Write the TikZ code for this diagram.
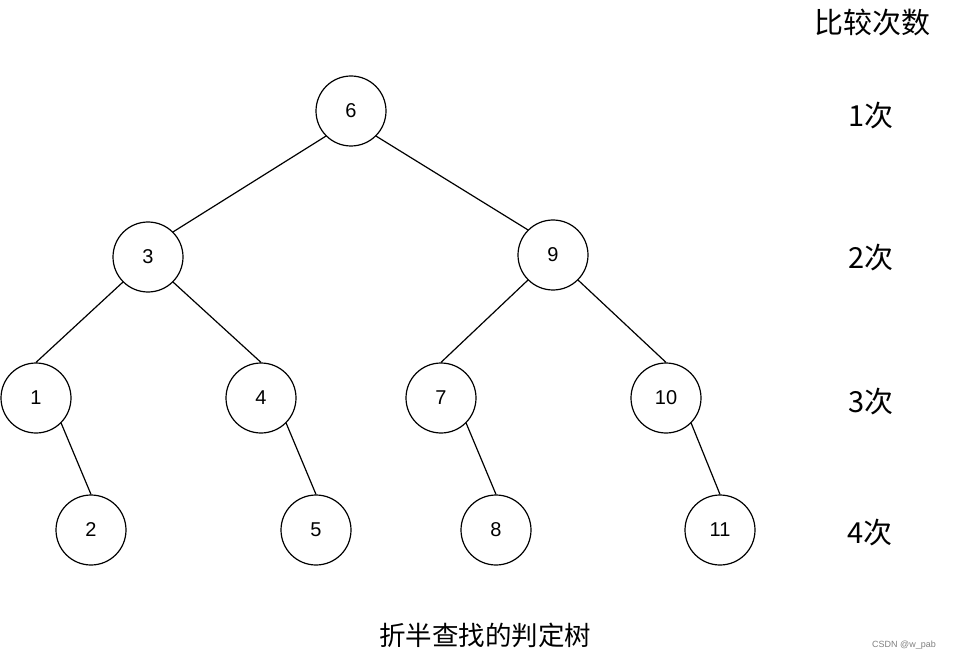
\documentclass[tikz,border=0pt]{standalone}
\usepackage{fontspec}
\setmainfont{Liberation Sans}
\newfontfamily\cjk{Noto Sans CJK SC}
\usetikzlibrary{positioning}

\begin{document}
\begin{tikzpicture}[x=1pt, y=-1pt,
    key/.style={draw, circle, line width=1.2pt, minimum size=70pt, inner sep=0pt, font=\fontsize{20}{23}\selectfont},
    edge/.style={line width=1.2pt},
    lvl/.style={font=\cjk\fontsize{29}{32}\selectfont}]
  \useasboundingbox (0,0) rectangle (955,660);
  % nodes of the tree
  \node[key] (n6) at (351,111) {6};
  \node[key] (n3) at (148,257) {3};
  \node[key] (n9) at (553,255) {9};
  \node[key] (n1) at (36,398) {1};
  \node[key] (n4) at (261,398) {4};
  \node[key] (n7) at (441,398) {7};
  \node[key] (n10) at (666,398) {10};
  \node[key] (n2) at (91,530) {2};
  \node[key] (n5) at (316,530) {5};
  \node[key] (n8) at (496,530) {8};
  \node[key] (n11) at (720,530) {11};
  % edges
  \draw[edge] (n6.south west) -- (n3.north east);
  \draw[edge] (n6.south east) -- (n9.north west);
  \draw[edge] (n3.south west) -- (n1.north);
  \draw[edge] (n3.south east) -- (n4.north);
  \draw[edge] (n9.south west) -- (n7.north);
  \draw[edge] (n9.south east) -- (n10.north);
  \draw[edge] (n1.south east) -- (n2.north);
  \draw[edge] (n4.south east) -- (n5.north);
  \draw[edge] (n7.south east) -- (n8.north);
  \draw[edge] (n10.south east) -- (n11.north);
  % comparison counts
  \node[lvl] (head) at (872,22) {比较次数};
  \node[lvl] (c1) at (871,116) {1次};
  \node[lvl] (c2) at (871,258) {2次};
  \node[lvl] (c3) at (871,402) {3次};
  \node[lvl] (c4) at (870,533) {4次};
  \node[font=\cjk\fontsize{26.5}{29}\selectfont] (cap) at (485,635) {折半查找的判定树};
  \node[font=\fontsize{9}{10}\selectfont, text=gray] (mark) at (904,645) {CSDN @w\_pab};
\end{tikzpicture}
\end{document}
